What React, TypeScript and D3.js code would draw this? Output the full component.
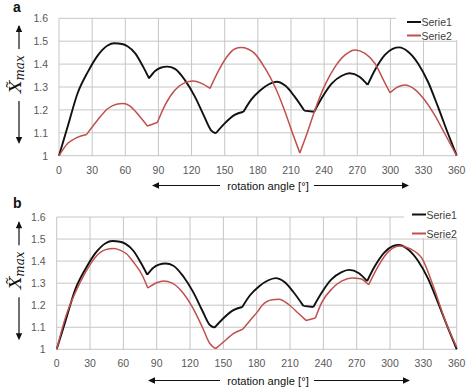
import * as d3 from "d3";

// angle axis (degrees) and value axis ticks
const angleTicks = [0, 30, 60, 90, 120, 150, 180, 210, 240, 270, 300, 330, 360];
const valueTicks = [1, 1.1, 1.2, 1.3, 1.4, 1.5, 1.6];

// Serie1 (same in both panels)
const s1Angles = [0, 8, 17, 26, 35, 44, 50, 57, 62, 69, 76, 81.5, 87, 92, 98, 105, 114, 123, 131, 137.5, 142, 150, 159, 167, 174, 182, 190, 197, 205, 213, 222, 231, 238, 247, 256, 263, 272, 279.4, 286, 295, 302, 308, 316, 325, 334, 343, 352, 360];
const s1Values = [1.0, 1.13, 1.275, 1.365, 1.437, 1.481, 1.491, 1.488, 1.478, 1.447, 1.39, 1.338, 1.37, 1.384, 1.389, 1.379, 1.33, 1.258, 1.176, 1.112, 1.098, 1.141, 1.178, 1.192, 1.245, 1.285, 1.312, 1.323, 1.305, 1.26, 1.197, 1.192, 1.253, 1.316, 1.349, 1.36, 1.345, 1.309, 1.374, 1.44, 1.467, 1.473, 1.454, 1.403, 1.323, 1.214, 1.098, 1.0];
const s1Kinks = [81.5, 142, 167, 222, 231, 279.4];

// Serie2, panel a
const a2Angles = [0, 8, 16, 25, 35, 44, 52, 58, 64, 72, 80, 89, 96, 105, 114, 121, 129, 136.7, 144, 152, 159, 165, 171, 177, 186.5, 195.5, 204.6, 212, 218, 224, 231.7, 240.8, 250, 259, 268, 277, 286, 293.6, 299.6, 307, 313, 322, 331, 340, 349, 360];
const a2Values = [1.0, 1.054, 1.079, 1.093, 1.156, 1.205, 1.225, 1.228, 1.218, 1.178, 1.13, 1.145, 1.221, 1.287, 1.319, 1.326, 1.316, 1.294, 1.367, 1.432, 1.466, 1.472, 1.466, 1.447, 1.382, 1.301, 1.192, 1.09, 1.012, 1.09, 1.2, 1.309, 1.389, 1.44, 1.462, 1.447, 1.403, 1.331, 1.275, 1.301, 1.309, 1.29, 1.243, 1.178, 1.098, 1.0];
const a2Kinks = [25, 80, 89, 136.7, 218, 299.6];

// Serie2, panel b
const b2Angles = [0, 8, 17, 26, 35, 44, 51, 57, 63, 69, 77, 82, 90, 96, 104, 113, 122, 131, 138, 143, 150, 159, 167.4, 174, 181, 185, 194, 200, 209, 218, 224.4, 232.8, 238.8, 247.8, 256.8, 265.8, 273.3, 280.8, 289.8, 298.8, 309, 318, 329, 339, 350, 360];
const b2Values = [1.0, 1.146, 1.26, 1.35, 1.419, 1.452, 1.457, 1.45, 1.432, 1.396, 1.336, 1.278, 1.302, 1.31, 1.3, 1.26, 1.192, 1.101, 1.025, 1.003, 1.033, 1.071, 1.091, 1.131, 1.172, 1.2, 1.225, 1.227, 1.202, 1.161, 1.131, 1.142, 1.215, 1.275, 1.31, 1.323, 1.32, 1.293, 1.381, 1.444, 1.468, 1.456, 1.41, 1.285, 1.125, 1.01];
const b2Kinks = [82, 143, 167.4, 224.4, 232.8, 280.8];

const seriesNames = ["Serie1", "Serie2"];
const seriesColors = ["#111111", "#c0504d"];

const W = 474;
const H = 387;
const tickFont = "'Liberation Sans', Arial, sans-serif";

function seriesPath(
  angles: number[],
  values: number[],
  kinks: number[],
  x: d3.ScaleLinear<number, number>,
  y: d3.ScaleLinear<number, number>
) {
  const line = d3
    .line<[number, number]>()
    .x(d => x(d[0]))
    .y(d => y(d[1]))
    .curve(d3.curveMonotoneX);
  // split at the cusps so they stay sharp
  const segs: [number, number][][] = [];
  let cur: [number, number][] = [];
  angles.forEach((a, i) => {
    cur.push([a, values[i]]);
    if (kinks.includes(a)) {
      segs.push(cur);
      cur = [[a, values[i]]];
    }
  });
  segs.push(cur);
  return segs.map(s => line(s)).join("");
}

function arrowHead(tx: number, ty: number, dir: "up" | "down" | "left" | "right") {
  const l = 7, w = 3.2;
  if (dir === "up") return `M${tx},${ty}L${tx - w},${ty + l}L${tx + w},${ty + l}Z`;
  if (dir === "down") return `M${tx},${ty}L${tx - w},${ty - l}L${tx + w},${ty - l}Z`;
  if (dir === "left") return `M${tx},${ty}L${tx + l},${ty - w}L${tx + l},${ty + w}Z`;
  return `M${tx},${ty}L${tx - l},${ty - w}L${tx - l},${ty + w}Z`;
}

type PanelProps = {
  label: string;
  left: number;
  right: number;
  top: number;
  bottom: number;
  s2Angles: number[];
  s2Values: number[];
  s2Kinks: number[];
  legendX: number;
  legendY: number;
  legendGap: number;
  boxX: number;
  boxTop: number;
  labelY: number;
  arrowY: number;
  xArrowLeft: number;
  xArrowRight: number;
};

function Panel(p: PanelProps) {
  const x = d3.scaleLinear().domain([0, 360]).range([p.left, p.right]);
  const y = d3.scaleLinear().domain([1, 1.6]).range([p.bottom, p.top]);
  const yMid = (p.top + p.bottom) / 2 - 13;

  return (
    <g>
      <text x={13} y={p.labelY} fontFamily={tickFont} fontWeight="bold" fontSize={14} fill="#111">
        {p.label}
      </text>

      {/* grid */}
      {valueTicks.map(v => (
        <line key={"h" + v} x1={x(0)} x2={x(360)} y1={y(v)} y2={y(v)} stroke="#c6c6c6" strokeWidth={1} />
      ))}
      {angleTicks.map(a => (
        <line key={"v" + a} x1={x(a)} x2={x(a)} y1={y(1.6)} y2={y(1)} stroke="#c6c6c6" strokeWidth={1} />
      ))}
      <rect x={p.boxX} y={p.boxTop} width={W - p.boxX} height={y(1.5) - 1 - p.boxTop} fill="#fff" />

      {/* tick labels */}
      {valueTicks.map(v => (
        <text key={"yl" + v} x={x(0) - 11} y={y(v) + 4} textAnchor="end" fontFamily={tickFont} fontSize={10.5} fill="#595959">
          {String(+v.toFixed(1))}
        </text>
      ))}
      {angleTicks.map(a => (
        <text key={"xl" + a} x={x(a)} y={y(1) + 18} textAnchor="middle" fontFamily={tickFont} fontSize={10.5} fill="#595959">
          {a}
        </text>
      ))}

      {/* series */}
      <path d={seriesPath(s1Angles, s1Values, s1Kinks, x, y)} fill="none" stroke={seriesColors[0]} strokeWidth={1.9} strokeLinejoin="round" />
      <path d={seriesPath(p.s2Angles, p.s2Values, p.s2Kinks, x, y)} fill="none" stroke={seriesColors[1]} strokeWidth={1.5} strokeLinejoin="round" />

      {/* legend */}
      {seriesNames.map((n, i) => (
        <g key={n} transform={`translate(${p.legendX},${p.legendY + i * p.legendGap})`}>
          <line x1={0} x2={14} y1={0} y2={0} stroke={seriesColors[i]} strokeWidth={2} />
          <text x={14.5} y={4} fontFamily={tickFont} fontSize={10.5} fill="#404040">
            {n}
          </text>
        </g>
      ))}

      {/* y axis label with arrows */}
      <line x1={19} x2={19} y1={yMid - 25} y2={yMid - 48} stroke="#111" strokeWidth={1.2} />
      <path d={arrowHead(19, yMid - 49, "up")} fill="#111" />
      <line x1={19} x2={19} y1={yMid + 27} y2={yMid + 68} stroke="#111" strokeWidth={1.2} />
      <path d={arrowHead(19, yMid + 70, "down")} fill="#111" />
      <text
        transform={`translate(21,${yMid}) rotate(-90)`}
        textAnchor="middle"
        fontFamily="'DejaVu Serif', 'Liberation Serif', serif"
        fontStyle="italic"
        fontSize={17}
        fill="#111"
      >
        {"X\u0303"}
        <tspan fontSize={12} dy={3}>max</tspan>
      </text>

      {/* x axis label with arrows */}
      <line x1={p.xArrowLeft + 5} x2={220} y1={p.arrowY} y2={p.arrowY} stroke="#111" strokeWidth={1.2} />
      <path d={arrowHead(p.xArrowLeft, p.arrowY, "left")} fill="#111" />
      <text x={268} y={p.arrowY + 4} textAnchor="middle" fontFamily={tickFont} fontSize={11.2} fill="#111">
        rotation angle [°]
      </text>
      <line x1={314} x2={p.xArrowRight - 5} y1={p.arrowY} y2={p.arrowY} stroke="#111" strokeWidth={1.2} />
      <path d={arrowHead(p.xArrowRight, p.arrowY, "right")} fill="#111" />
    </g>
  );
}

export default function App() {
  return (
    <svg width={W} height={H} style={{ position: "absolute", left: 0, top: 0, background: "#fff" }}>
      <rect width={W} height={H} fill="#fff" />
      <Panel
        label="a"
        left={59}
        right={456.7}
        top={18.3}
        bottom={155.7}
        s2Angles={a2Angles}
        s2Values={a2Values}
        s2Kinks={a2Kinks}
        legendX={407}
        legendY={22}
        legendGap={13.5}
        boxX={396}
        boxTop={0}
        labelY={12}
        arrowY={185.5}
        xArrowLeft={152}
        xArrowRight={409}
      />
      <Panel
        label="b"
        left={56.7}
        right={456.7}
        top={217}
        bottom={349.3}
        s2Angles={b2Angles}
        s2Values={b2Values}
        s2Kinks={b2Kinks}
        legendX={412}
        legendY={214.5}
        legendGap={19}
        boxX={404}
        boxTop={195}
        labelY={208}
        arrowY={380.5}
        xArrowLeft={148}
        xArrowRight={410}
      />
    </svg>
  );
}
